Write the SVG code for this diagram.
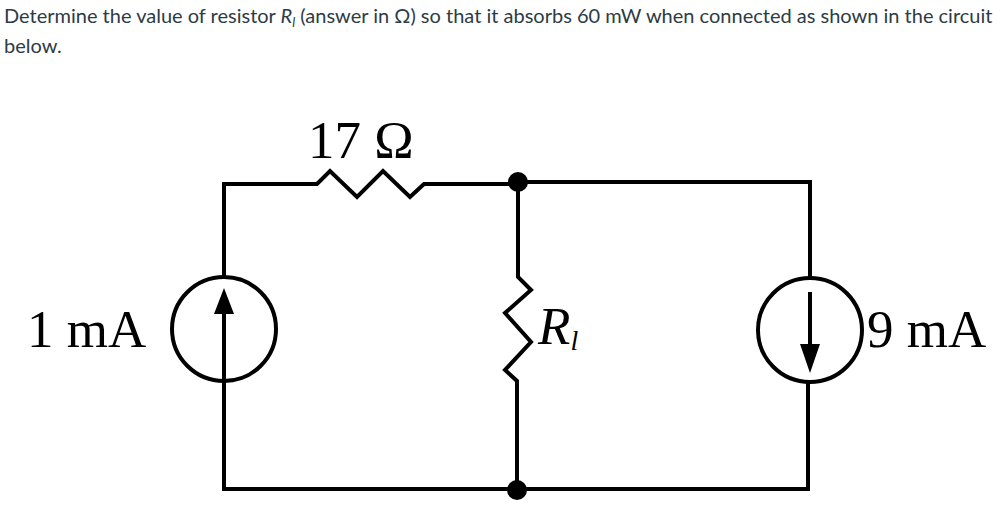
<svg xmlns="http://www.w3.org/2000/svg" width="1006" height="512" viewBox="0 0 1006 512">
<style>
.w{fill:none;stroke:#000;stroke-width:4;stroke-linejoin:miter}
.c{fill:#fff;stroke:#000;stroke-width:4}
.lbl{font-family:"Liberation Serif",serif;font-size:53px;fill:#000}
.hdr{font-family:Lato,"Liberation Sans",sans-serif;font-size:20px;fill:#2d3b45}
</style>
<rect width="1006" height="512" fill="#fff"/>
<text class="hdr" x="4" y="23">Determine the value of resistor <tspan font-style="italic">R</tspan><tspan font-style="italic" font-size="13" dy="4">l</tspan><tspan dy="-4"> (answer in Ω) so that it absorbs 60 mW when connected as shown in the circuit</tspan></text>
<text class="hdr" x="4" y="53">below.</text>
<g id="connectors">
<path class="w" d="M224,276 V184 H317 L330,171 L357,197 L383,171 L410,197 L424,184 H518"/>
<path class="w" d="M518,182 H810 V277"/>
<path class="w" d="M518,182 V277 L531,290 L505,313 L531,342 L505,370 L517,381 V490"/>
<path class="w" d="M224,381 V489 H808 V383"/>
</g>
<g id="n1"><circle cx="518" cy="182" r="10" fill="#000"/></g>
<g id="n2"><circle cx="517" cy="490" r="10" fill="#000"/></g>
<g id="src1">
<circle class="c" cx="224" cy="329" r="52"/>
<path class="w" d="M224,381 V310"/>
<polygon points="224,288 214,314 234,314" fill="#000"/>
<text class="lbl" x="27" y="347">1 mA</text>
</g>
<g id="src2">
<circle class="c" cx="810" cy="330" r="52"/>
<path class="w" d="M810,292 V350"/>
<polygon points="810,373 800,344 820,344" fill="#000"/>
<text class="lbl" x="867" y="347">9 mA</text>
</g>
<g id="r17"><text class="lbl" x="308" y="158">17 Ω</text></g>
<g id="rl"><text class="lbl" x="538" y="344" font-style="italic" font-size="46">R<tspan font-size="28" dy="6">l</tspan></text></g>
</svg>
